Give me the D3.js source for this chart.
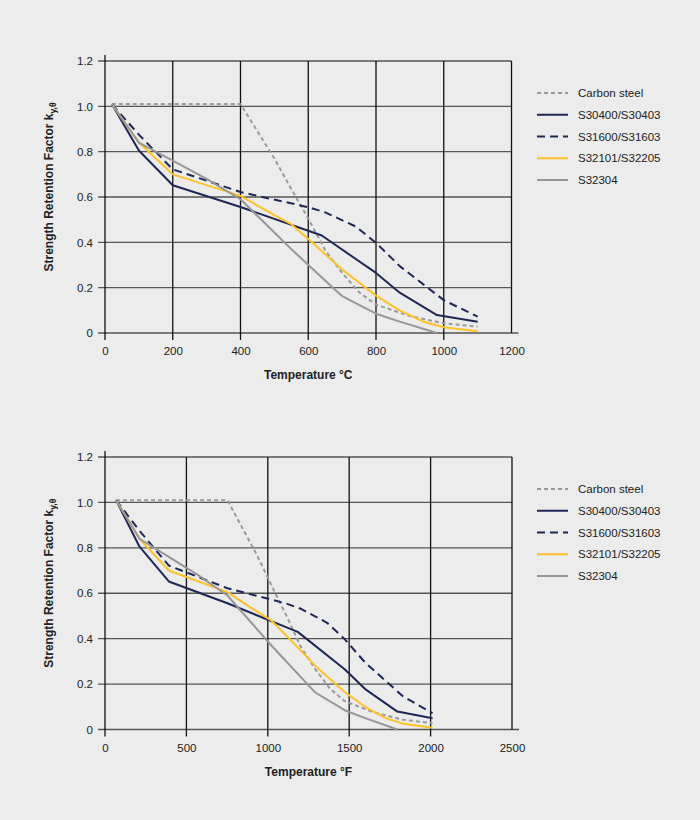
<!DOCTYPE html>
<html>
  <head>
    <meta charset="UTF-8" />
    <script src="https://d3js.org/d3.v7.min.js"></script>
    <style>
      body { margin: 0; background: #ebeceb; }
      text { font-family: "Liberation Sans", Arial, sans-serif; fill: #222; }
    </style>
  </head>
  <body>
    <div id="my_dataviz"></div>

    <script>
      // temperatures in °C, the °F chart uses the same points converted
      var carbonTemps = [20, 400, 500, 550, 600, 650, 700, 750, 800, 900, 1000, 1100];
      var carbonSteel = [1.01, 1.01, 0.77, 0.635, 0.505, 0.365, 0.265, 0.18, 0.125, 0.075, 0.043, 0.028];

      var s30400Temps = [20, 100, 200, 400, 640, 800, 870, 980, 1100];
      var s30400 = [1.01, 0.805, 0.652, 0.556, 0.43, 0.265, 0.178, 0.079, 0.05];

      var s31600Temps = [20, 100, 200, 400, 600, 650, 740, 800, 870, 1000, 1100];
      var s31600 = [1.01, 0.875, 0.722, 0.622, 0.555, 0.532, 0.47, 0.398, 0.295, 0.145, 0.072];

      var s32101Temps = [20, 100, 200, 400, 500, 550, 600, 700, 800, 870, 940, 1000, 1100];
      var s32101 = [1.01, 0.84, 0.70, 0.605, 0.52, 0.48, 0.415, 0.28, 0.165, 0.10, 0.05, 0.025, 0.008];

      var s32304Temps = [20, 100, 200, 300, 400, 550, 680, 700, 800, 870, 980];
      var s32304 = [1.01, 0.84, 0.76, 0.68, 0.59, 0.37, 0.19, 0.163, 0.085, 0.05, 0.0];

      var seriesNames = ["Carbon steel", "S30400/S30403", "S31600/S31603", "S32101/S32205", "S32304"];
      var seriesTemps = [carbonTemps, s30400Temps, s31600Temps, s32101Temps, s32304Temps];
      var seriesValues = [carbonSteel, s30400, s31600, s32101, s32304];

      var xTicksC = [0, 200, 400, 600, 800, 1000, 1200];
      var xTicksF = [0, 500, 1000, 1500, 2000, 2500];
      var yTicks = [0, 0.2, 0.4, 0.6, 0.8, 1.0, 1.2];

      // styles
      var colors = ["#9a9a9a", "#1f2757", "#1f2757", "#fdc22a", "#979797"];
      var dashes = ["4,3", null, "8,5", null, null];

      var svg = d3
        .select("#my_dataviz")
        .append("svg")
        .attr("width", 700)
        .attr("height", 820);

      function drawChart(yTop, yZero, xRight, xMax, xTicks, toUnit, xTitle) {
        var x = d3.scaleLinear().domain([0, xMax]).range([105, xRight]);
        var y = d3.scaleLinear().domain([0, 1.2]).range([yZero, yTop]);
        var g = svg.append("g");

        // horizontal grid
        g.selectAll(".hgrid")
          .data(yTicks)
          .join("line")
          .attr("x1", 98)
          .attr("x2", (d) => (d === 0 ? xRight + 7 : xRight))
          .attr("y1", (d) => y(d))
          .attr("y2", (d) => y(d))
          .attr("stroke", "#555")
          .attr("stroke-width", 1.3);

        // vertical grid
        g.selectAll(".vgrid")
          .data(xTicks)
          .join("line")
          .attr("x1", (d) => x(d))
          .attr("x2", (d) => x(d))
          .attr("y1", (d, i) => (i === 0 ? yTop - 6 : yTop))
          .attr("y2", (d, i) => (i === xTicks.length - 1 ? yZero : yZero + 7))
          .attr("stroke", "#111")
          .attr("stroke-width", 1.3);

        // tick labels
        g.append("g")
          .attr("transform", "translate(0," + yZero + ")")
          .call(d3.axisBottom(x).tickValues(xTicks).tickSize(0).tickPadding(14).tickFormat(d3.format("d")));
        g.append("g")
          .attr("transform", "translate(105,0)")
          .call(
            d3
              .axisLeft(y)
              .tickValues(yTicks)
              .tickSize(0)
              .tickPadding(12)
              .tickFormat((d) => (d === 0 ? "0" : d.toFixed(1)))
          );
        g.selectAll(".domain").remove();
        g.selectAll(".tick text")
          .attr("font-size", "11.5px")
          .attr("font-family", "Liberation Sans, Arial, sans-serif")
          .attr("fill", "#222");

        // lines
        var line = d3
          .line()
          .x((d) => x(toUnit(d.t)))
          .y((d) => y(d.v));

        seriesValues.forEach(function (vals, i) {
          var pts = vals.map((v, j) => ({ t: seriesTemps[i][j], v: v }));
          g.append("path")
            .attr("d", line(pts))
            .attr("fill", "none")
            .attr("stroke", colors[i])
            .attr("stroke-width", 2)
            .attr("stroke-linejoin", "round")
            .attr("stroke-dasharray", dashes[i]);
        });

        // axis titles
        g.append("text")
          .attr("x", (105 + xRight) / 2)
          .attr("y", yZero + 46)
          .attr("text-anchor", "middle")
          .attr("font-size", "12px")
          .attr("font-weight", "bold")
          .text(xTitle);

        var yt = g
          .append("text")
          .attr("transform", "translate(53," + ((yTop + yZero) / 2 - 10) + ") rotate(-90)")
          .attr("text-anchor", "middle")
          .attr("font-size", "12px")
          .attr("font-weight", "bold");
        yt.append("tspan").text("Strength Retention Factor k");
        yt.append("tspan").attr("font-size", "8.5px").attr("dy", 3).text("y,θ");

        // legend
        var leg = g
          .selectAll(".leg")
          .data(seriesNames)
          .join("g")
          .attr("transform", (d, i) => "translate(537," + (yTop + 32 + i * 21.75) + ")");
        leg.append("line")
          .attr("x1", 0)
          .attr("x2", 31)
          .attr("stroke", (d, i) => colors[i])
          .attr("stroke-width", 2)
          .attr("stroke-dasharray", (d, i) => dashes[i]);
        leg.append("text")
          .attr("x", 41)
          .attr("dy", "0.35em")
          .attr("font-size", "11.5px")
          .text((d) => d);
      }

      drawChart(61, 333, 511.5, 1200, xTicksC, (c) => c, "Temperature °C");
      drawChart(457, 729.5, 512, 2500, xTicksF, (c) => c * 1.8 + 32, "Temperature °F");
    </script>
  </body>
</html>
